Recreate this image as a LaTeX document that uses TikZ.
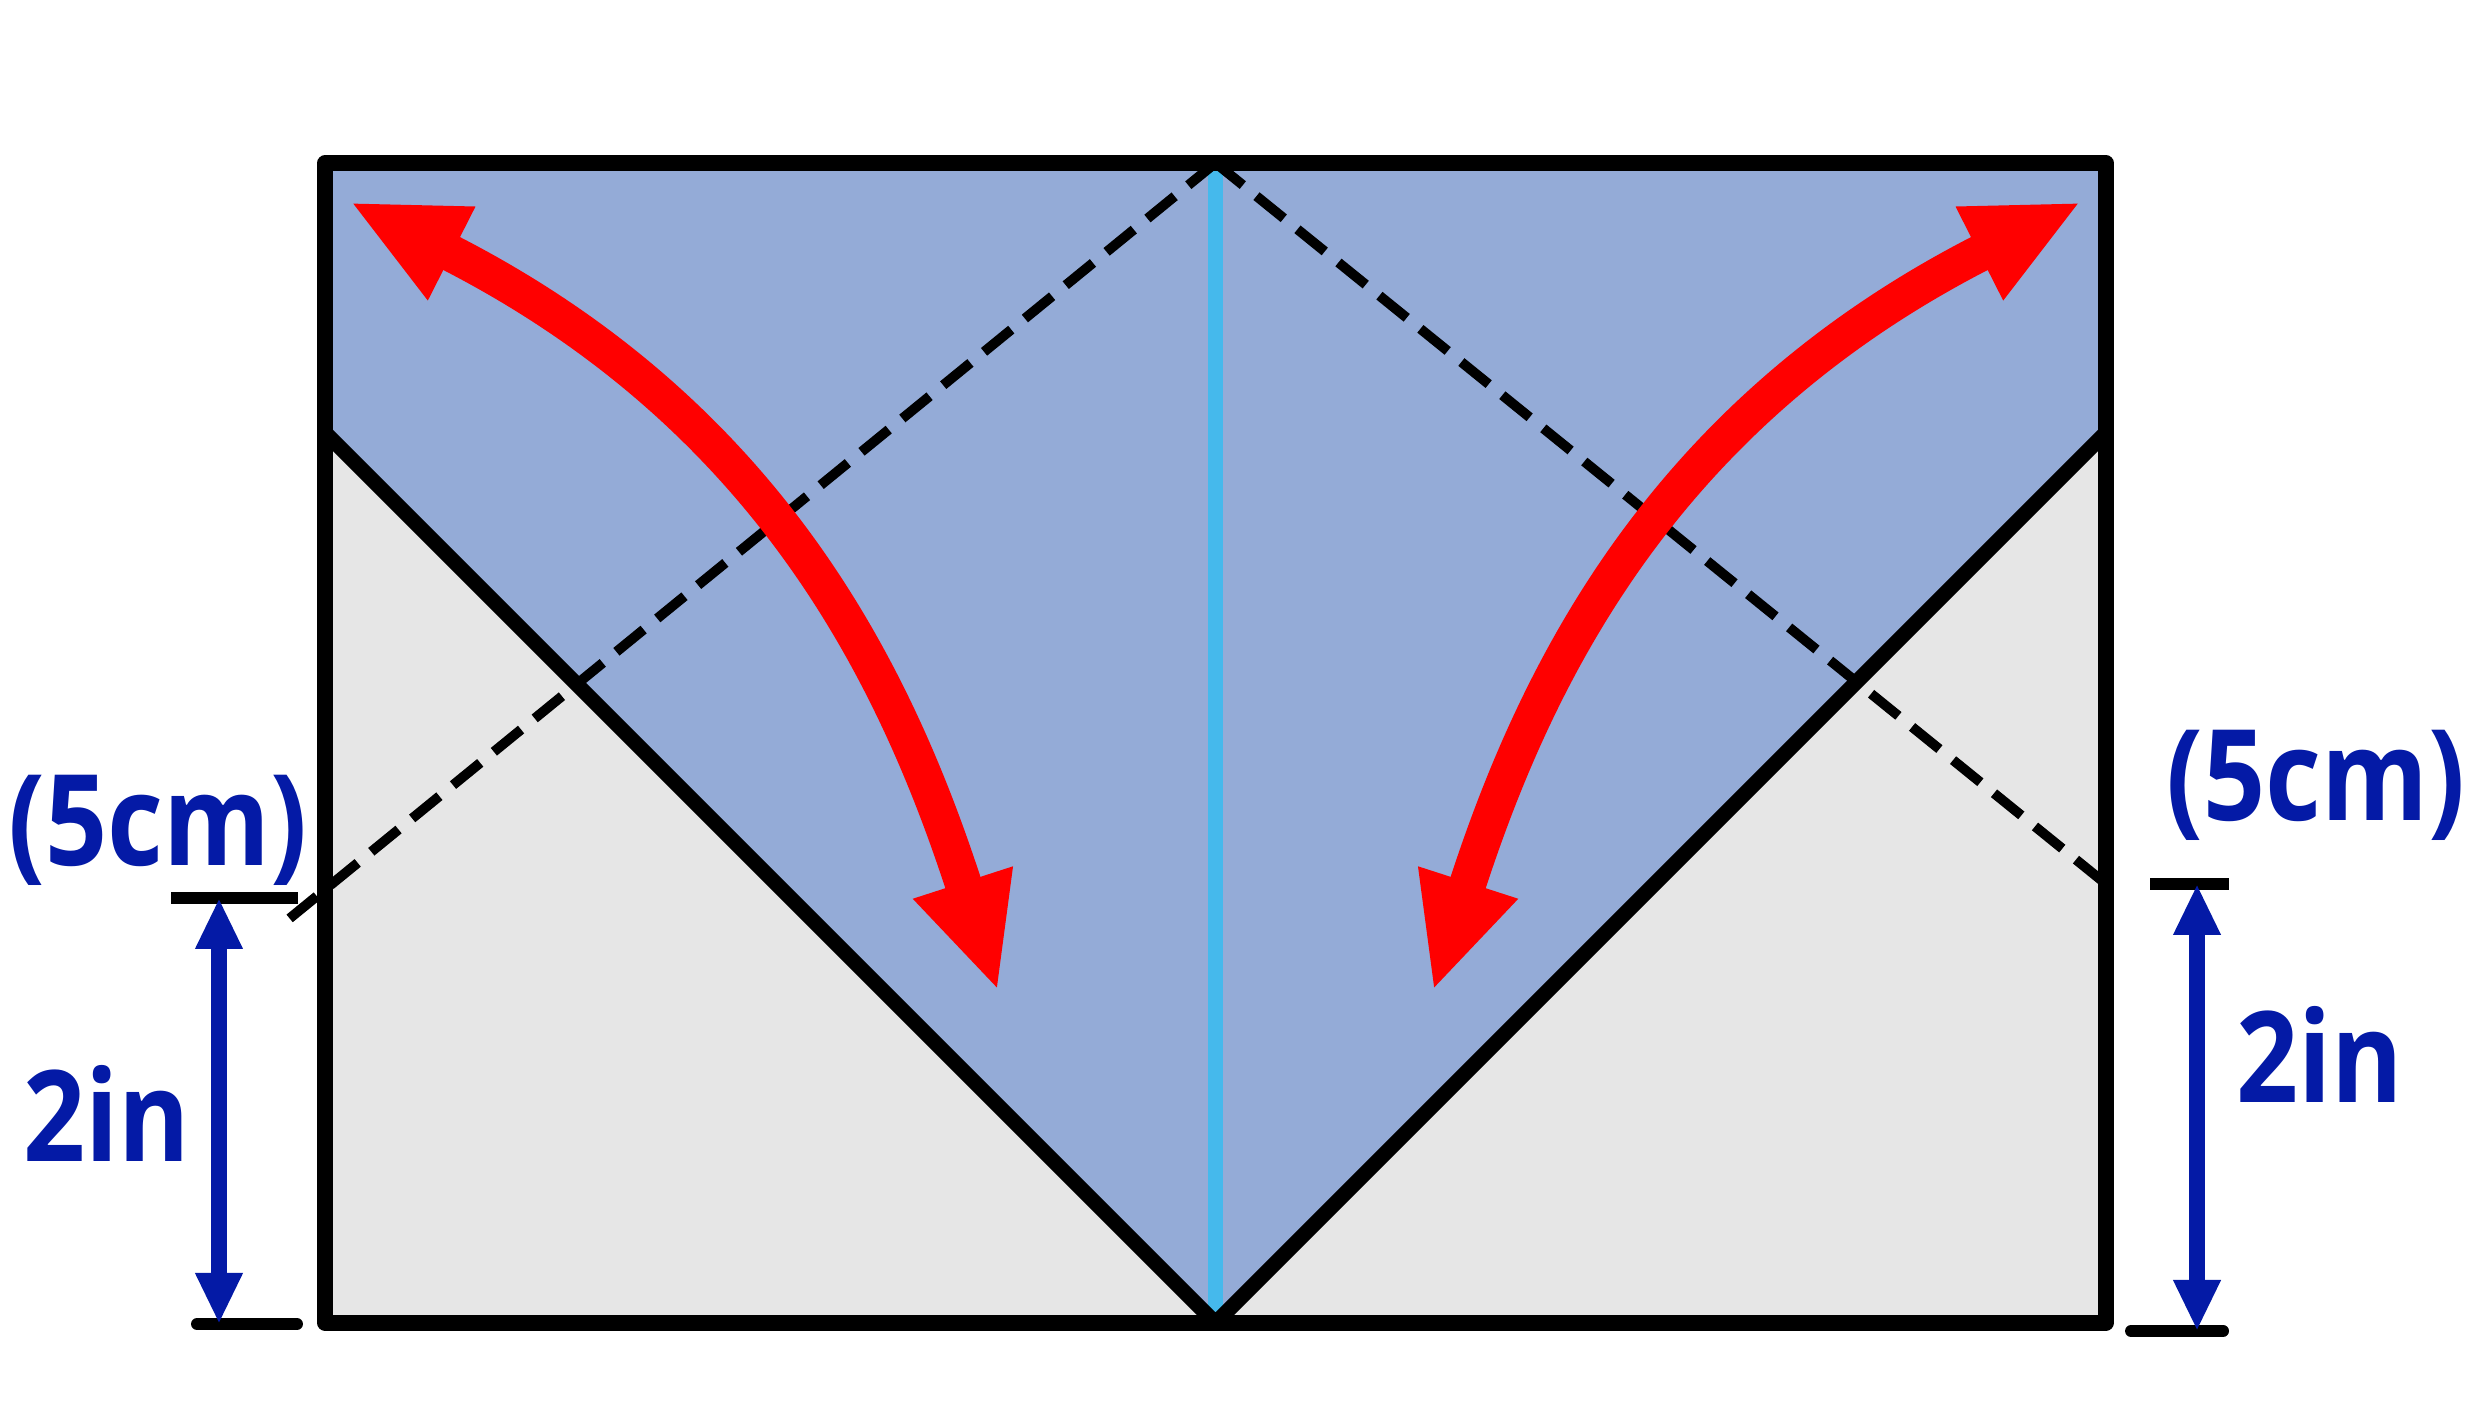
\documentclass[tikz,border=0pt]{standalone}
\usepackage{fontspec}
\setmainfont{Open Sans}[FakeStretch=0.86]
\usepackage{tikz}
\usetikzlibrary{arrows.meta}

\definecolor{flapblue}{RGB}{148,171,215}
\definecolor{papergrey}{RGB}{230,230,230}
\definecolor{creasecyan}{RGB}{69,185,236}
\definecolor{dimblue}{RGB}{4,26,166}
\definecolor{foldred}{RGB}{255,0,0}

\tikzset{
  edge/.style={line width=4.3pt, line join=round},
  crease/.style={line width=2.8pt, dash pattern=on 10pt off 5pt},
  fold/.style={foldred, line width=10.5pt,
    {Triangle[length=1.14cm,width=0.96cm]}-{Triangle[length=1.14cm,width=0.96cm]}},
  dim/.style={dimblue, line width=4.3pt,
    {Triangle[length=0.51cm,width=0.44cm]}-{Triangle[length=0.51cm,width=0.44cm]}},
  bar/.style={line width=3.4pt},
  lbl/.style={dimblue, font=\fontsize{36}{36}\selectfont\bfseries, inner sep=0pt}
}

\begin{document}
\begin{tikzpicture}
  \useasboundingbox (0,0) rectangle (24.75,14.24);
  % sheet
  \coordinate (BL) at (3.25,1.01);
  \coordinate (BR) at (21.06,1.01);
  \coordinate (TR) at (21.06,12.61);
  \coordinate (TL) at (3.25,12.61);
  \coordinate (TM) at (12.155,12.61);
  \coordinate (BM) at (12.155,1.01);
  \coordinate (FL) at (3.25,9.915);
  \coordinate (FR) at (21.06,9.915);
  \coordinate (CL) at (2.84,5.01);
  \coordinate (CR) at (21.06,5.40);

  \fill[papergrey] (BL) rectangle (TR);
  \fill[flapblue] (TL) -- (TR) -- (FR) -- (BM) -- (FL) -- cycle;
  \draw[creasecyan, line width=4.1pt] (TM) -- (BM);
  \draw[crease] (TM) -- (CL);
  \draw[crease] (TM) -- (CR);
  \draw[edge] (BL) rectangle (TR);
  \draw[edge] (FL) -- (BM) -- (FR);

  % fold arrows
  \coordinate (aL1) at (3.50,12.22);
  \coordinate (aL2) at (9.98,4.33);
  \coordinate (aR1) at (20.81,12.22);
  \coordinate (aR2) at (14.33,4.33);
  \draw[fold] (aL1) .. controls (7.70,10.09) and (8.96,7.48) .. (aL2);
  \draw[fold] (aR1) .. controls (16.61,10.09) and (15.35,7.48) .. (aR2);

  % left measure
  \coordinate (lt1) at (1.71,5.26);
  \coordinate (lt2) at (2.98,5.26);
  \coordinate (lb1) at (1.97,1.00);
  \coordinate (lb2) at (2.97,1.00);
  \coordinate (ld1) at (2.19,5.26);
  \coordinate (ld2) at (2.19,1.00);
  \draw[bar] (lt1) -- (lt2);
  \draw[bar, line cap=round] (lb1) -- (lb2);
  \draw[dim] (ld1) -- (ld2);
  \node[lbl] (cmL) at (1.58,5.94) {(5cm)};
  \node[lbl] (inL) at (1.07,3.11) {2in};

  % right measure
  \coordinate (rt1) at (21.50,5.40);
  \coordinate (rt2) at (22.29,5.40);
  \coordinate (rb1) at (21.31,0.93);
  \coordinate (rb2) at (22.23,0.93);
  \coordinate (rd1) at (21.97,5.40);
  \coordinate (rd2) at (21.97,0.93);
  \draw[bar] (rt1) -- (rt2);
  \draw[bar, line cap=round] (rb1) -- (rb2);
  \draw[dim] (rd1) -- (rd2);
  \node[lbl] (cmR) at (23.16,6.39) {(5cm)};
  \node[lbl] (inR) at (23.20,3.70) {2in};
\end{tikzpicture}
\end{document}
